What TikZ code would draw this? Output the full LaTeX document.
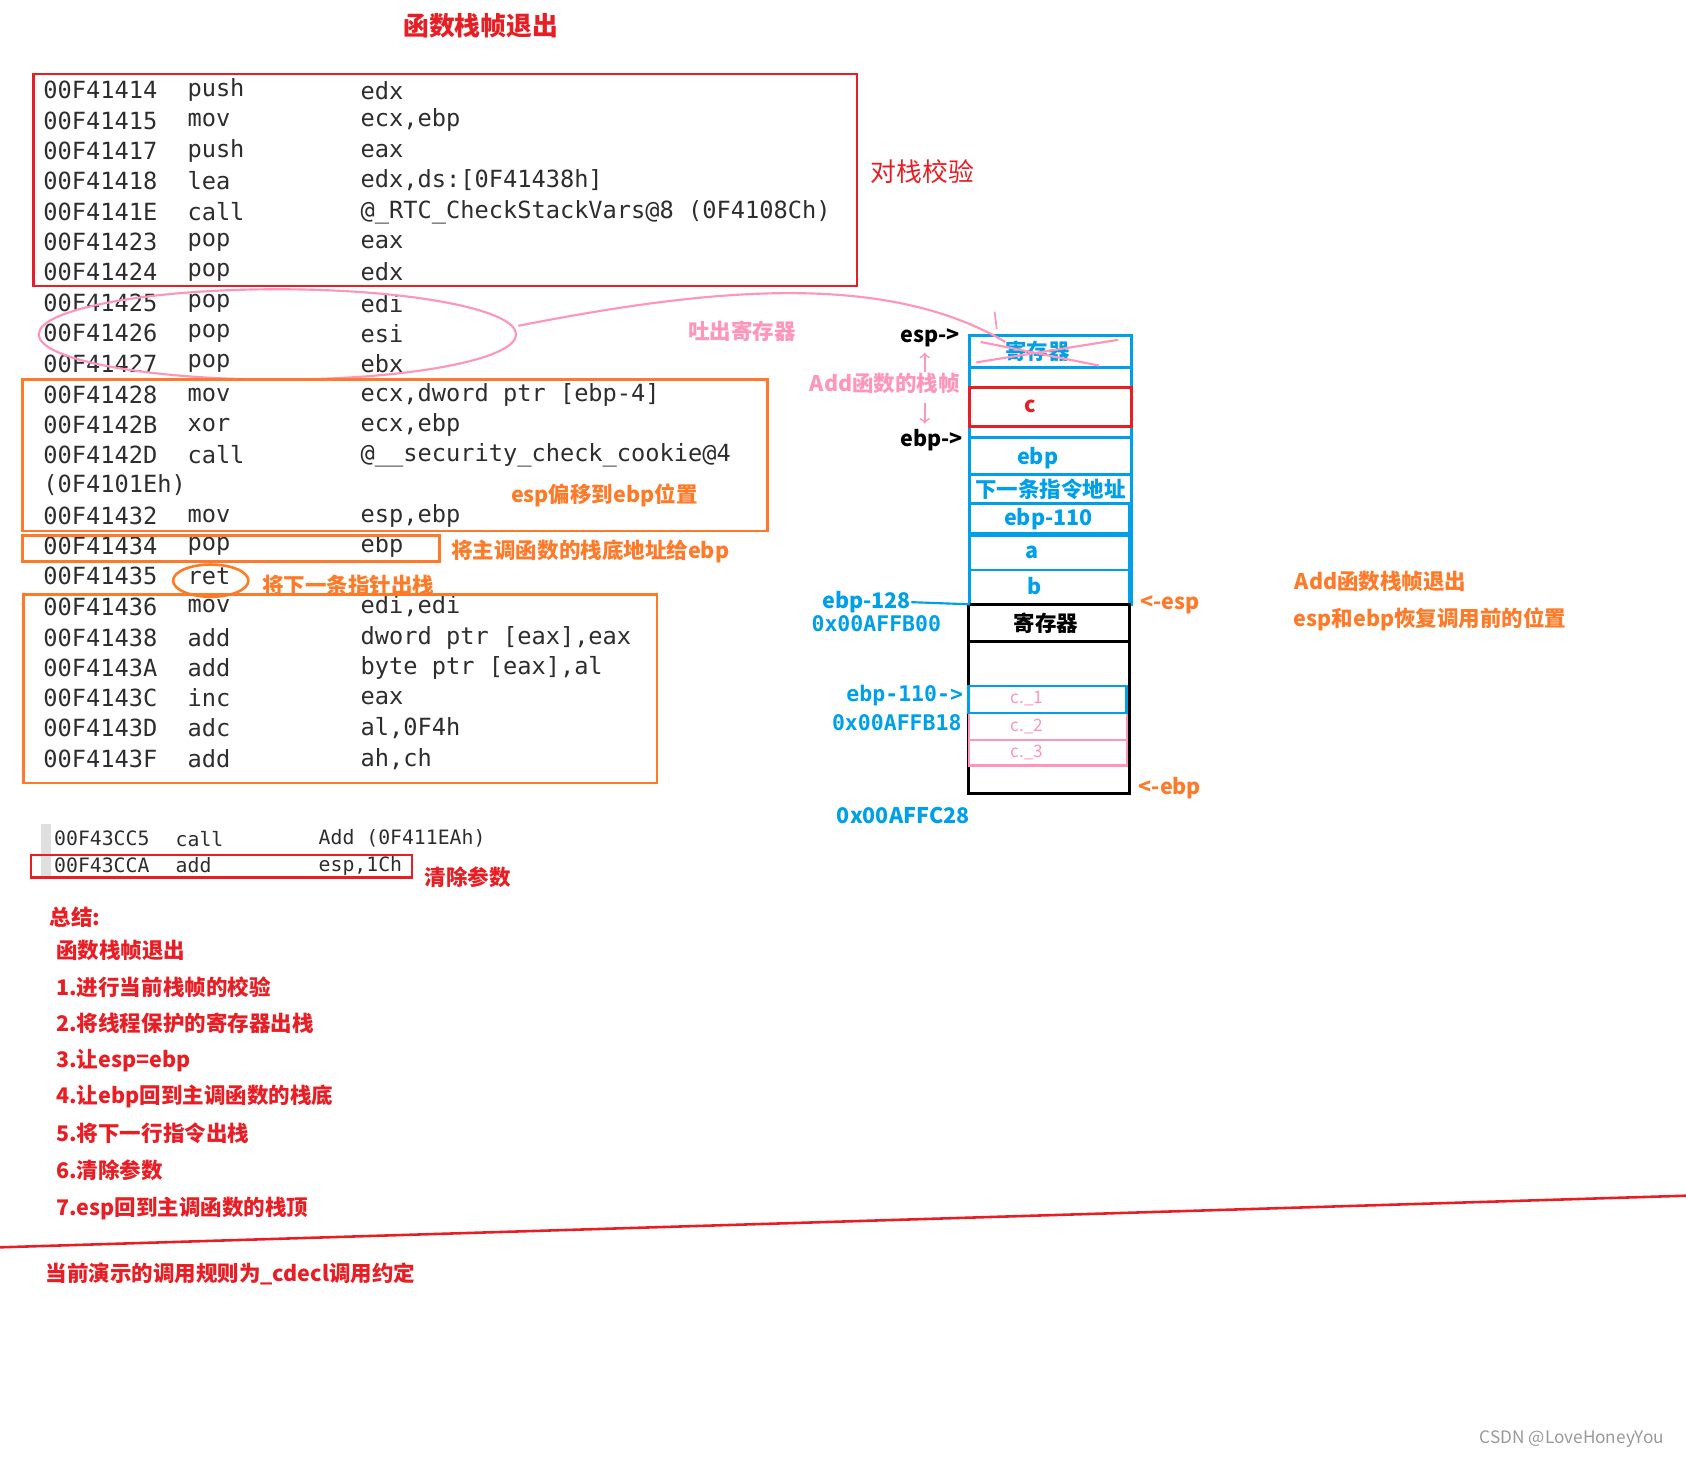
\documentclass[tikz,border=0pt]{standalone}
\usepackage{fontspec}
\setmainfont{Noto Sans CJK SC}
\setmonofont{DejaVu Sans Mono}
\definecolor{cred}{RGB}{232,30,36}
\definecolor{cor}{RGB}{255,122,40}
\definecolor{cpink}{RGB}{255,150,185}
\definecolor{cblue}{RGB}{0,160,232}
\definecolor{ccode}{RGB}{45,45,45}
\begin{document}
\begin{tikzpicture}[x=0.5pt,y=-0.5pt,
  code/.style={anchor=west,inner sep=0,font=\fontsize{11}{13}\ttfamily,text=ccode},
  scode/.style={anchor=west,inner sep=0,font=\fontsize{9.2}{11}\ttfamily,text=ccode},
  lab/.style={inner sep=0,font=\fontsize{10}{12}\selectfont\bfseries},
  sum/.style={anchor=west,inner sep=0,font=\fontsize{10}{12}\selectfont\bfseries,text=cred},
  cell/.style={draw=cblue,line width=1.3pt},
  celltxt/.style={inner sep=0,font=\fontsize{10}{12}\selectfont\bfseries,text=cblue}]
\useasboundingbox (0,0) rectangle (1568,1357);
\node[inner sep=0,font=\fontsize{12}{14}\selectfont\bfseries,text=cred] (title) at (447,24) {函数栈帧退出};
% code listing
\foreach \y/\a/\m/\o [count=\i] in {
 84/00F41414/push/edx, 112/00F41415/mov/{ecx,ebp}, 140/00F41417/push/eax,
 168/00F41418/lea/{edx,ds:[0F41438h]}, 197/00F4141E/call/{@\_RTC\_CheckStackVars@8 (0F4108Ch)},
 225/00F41423/pop/eax, 253/00F41424/pop/edx, 282/00F41425/pop/edi, 310/00F41426/pop/esi,
 338/00F41427/pop/ebx, 367/00F41428/mov/{ecx,dword ptr [ebp-4]}, 395/00F4142B/xor/{ecx,ebp},
 423/00F4142D/call/{@\_\_security\_check\_cookie@4},
 480/00F41432/mov/{esp,ebp}, 508/00F41434/pop/ebp, 536/00F41435/ret/{},
 564/00F41436/mov/{edi,edi}, 593/00F41438/add/{dword ptr [eax],eax},
 621/00F4143A/add/{byte ptr [eax],al}, 649/00F4143C/inc/eax, 677/00F4143D/adc/{al,0F4h},
 706/00F4143F/add/{ah,ch}}{
  \node[code] (ad\i) at (40,\y) {\a};
  \node[code] (mn\i) at (174,\y) {\m};
  \node[code] (op\i) at (335,\y) {\o};
}
\node[code] (cont) at (40,451) {(0F4101Eh)};
% boxes
\draw[cred,line width=1.2pt] (31,69) rectangle (797,266);
\node[inner sep=0,font=\fontsize{12}{14}\selectfont,text=cred] (chk) at (858,160) {对栈校验};
\draw[cpink,line width=1pt] (258,311) ellipse [x radius=222,y radius=42];
\node[lab,text=cpink] (tuchu) at (690,308) {吐出寄存器};
\draw[cor,line width=1.2pt] (21,353) rectangle (714,494);
\node[lab,text=cor] (espm) at (562,461) {esp偏移到ebp位置};
\draw[cor,line width=1.2pt] (21,498) rectangle (409,522);
\node[lab,text=cor] (ebpg) at (549,513) {将主调函数的栈底地址给ebp};
\draw[cor,line width=1.2pt] (196,540) ellipse [x radius=35,y radius=15];
\node[lab,text=cor] (nxt) at (324,544) {将下一条指针出栈};
\draw[cor,line width=1.2pt] (22,553) rectangle (611,728);
% lower code
\fill[gray!25] (38,766) rectangle (47,815);
\node[scode] (l1a) at (50,780) {00F43CC5};
\node[scode] (l1b) at (163,780) {call};
\node[scode] (l1c) at (296,780) {Add (0F411EAh)};
\node[scode] (l2a) at (50,805) {00F43CCA};
\node[scode] (l2b) at (163,805) {add};
\node[scode] (l2c) at (296,805) {esp,1Ch};
\draw[cred,line width=1.2pt] (29,795) rectangle (383,816);
\node[lab,text=cred] (clr) at (435,816) {清除参数};
% summary
\node[sum] (s0) at (46,853) {总结:};
\foreach \y/\t [count=\i] in {884/函数栈帧退出,918/1.进行当前栈帧的校验,952/2.将线程保护的寄存器出栈,
 986/3.让esp=ebp,1020/4.让ebp回到主调函数的栈底,1054/5.将下一行指令出栈,1088/6.清除参数,1124/7.esp回到主调函数的栈顶}
 {\node[sum] (s\i) at (52,\y) {\t};}
\coordinate (la) at (0,1160); \coordinate (lb) at (1568,1112);
\draw[cred,line width=1.2pt] (la) -- (lb);
\node[sum] (cd) at (42,1185) {当前演示的调用规则为\_cdecl调用约定};
\node[inner sep=0,font=\fontsize{8}{10}\selectfont,text=gray!80] (wm) at (1462,1338) {CSDN @LoveHoneyYou};
% stack
\draw[cell] (902,312) rectangle (1052,562);
\draw[cell] (902,312) rectangle (1052,342);
\node[celltxt] (reg1) at (965,327) {寄存器};
\draw[cpink,line width=1pt] (908,337) -- (1040,316) (912,318) -- (1022,340);
\draw[cred,line width=1.3pt] (902,360) rectangle (1052,397);
\node[celltxt,text=cred] (cc) at (958,378) {c};
\draw[cell] (902,407) rectangle (1052,441);
\node[celltxt] (ebpc) at (965,426) {ebp};
\draw[cell] (902,441) rectangle (1052,468);
\node[celltxt] (nx) at (977,455) {下一条指令地址};
\draw[cell] (902,468) rectangle (1050,496);
\node[celltxt] (e110) at (975,483) {ebp-110};
\draw[cell] (902,498) rectangle (1050,530);
\node[celltxt] (ca) at (960,514) {a};
\draw[cell] (902,530) rectangle (1050,562);
\node[celltxt] (cb) at (962,545) {b};
\draw[black,line width=1.4pt] (901,562) rectangle (1050,738);
\draw[black,line width=1.4pt] (901,597) -- (1050,597);
\node[celltxt,text=black] (reg2) at (973,580) {寄存器};
\draw[cpink,line width=1.2pt] (901,663) rectangle (1048,688) (901,688) rectangle (1048,712);
\draw[cell] (901,638) rectangle (1048,663);
\foreach \y/\t/\n in {650/1/c1,676/2/c2,700/3/c3}
  \node[inner sep=0,font=\fontsize{8}{10}\selectfont,text=cpink] (\n) at (955,\y) {c.\_\t};
% pink curve
\coordinate (pk) at (935,318);
\draw[cpink,line width=1pt] (482,303) .. controls (650,270) and (820,250) .. (pk);
\draw[cpink,line width=0.8pt] (925,290) -- (927,306);
% stack labels
\node[lab,anchor=east,text=black] (espl) at (893,314) {esp->};
\node[lab,anchor=east,text=black] (ebpl) at (896,409) {ebp->};
\node[lab,text=cpink] (addf) at (823,357) {Add函数的栈帧};
\draw[cpink,->,line width=0.8pt] (860,346) -- (860,328);
\draw[cpink,->,line width=0.8pt] (860,375) -- (860,394);
\node[lab,text=cblue] (e128) at (806,560) {ebp-128};
\coordinate (e128r) at (902,562);
\draw[cblue,line width=1pt] (e128.east) -- (e128r);
\node[lab,text=cblue,font=\fontsize{10}{12}\ttfamily\bfseries] (a1) at (815,580) {0x00AFFB00};
\node[lab,anchor=east,text=cblue,font=\fontsize{10}{12}\ttfamily\bfseries] (e110l) at (896,647) {ebp-110->};
\node[lab,text=cblue,font=\fontsize{10}{12}\ttfamily\bfseries] (a2) at (834,672) {0x00AFFB18};
\node[lab,text=cblue] (a3) at (840,758) {0x00AFFC28};
\node[lab,text=cor] (lesp) at (1088,562) {<-esp};
\node[lab,text=cor] (lebp) at (1088,733) {<-ebp};
\node[lab,text=cor] (ex1) at (1284,541) {Add函数栈帧退出};
\node[lab,text=cor] (ex2) at (1330,576) {esp和ebp恢复调用前的位置};
\end{tikzpicture}
\end{document}
